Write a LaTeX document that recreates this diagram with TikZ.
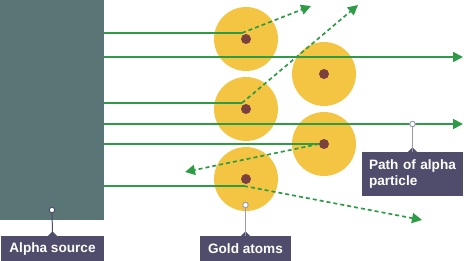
\documentclass[tikz,border=0pt]{standalone}
\usepackage{fontspec}
\setmainfont{Liberation Sans}
\usetikzlibrary{arrows.meta}
\definecolor{srcc}{HTML}{5A7575}
\definecolor{goldc}{HTML}{F4C542}
\definecolor{nucc}{HTML}{7B4141}
\definecolor{rayc}{HTML}{2E9C47}
\definecolor{labc}{HTML}{4F4C6C}
\definecolor{linkc}{HTML}{9A98AC}
\tikzset{
  atom/.style={circle, fill=goldc, minimum size=64pt, inner sep=0pt},
  nucleus/.style={circle, fill=nucc, minimum size=10pt, inner sep=0pt},
  ray/.style={draw=rayc, line width=1.7pt},
  rayarrow/.style={ray, -{Triangle[length=10pt,width=10pt]}},
  scatter/.style={ray, dash pattern=on 4pt off 3pt, -{Triangle[length=10pt,width=10pt]}},
  labelbox/.style={fill=labc, text=white, font=\bfseries\fontsize{13.6}{16.5}\selectfont, inner sep=0pt, minimum height=25pt},
  link/.style={draw=#1, line width=1pt},
  dotmark/.style={circle, draw=#1, fill=white, line width=0.9pt, minimum size=5.5pt, inner sep=0pt},
}
\begin{document}
\begin{tikzpicture}[x=1pt,y=-1pt]
\useasboundingbox (0,0) rectangle (464,261);
% source
\fill[srcc] (0,0) rectangle (104,220);
% atoms
\node[atom] (a1) at (246,39) {};
\node[atom] (a2) at (324,74) {};
\node[atom] (a3) at (246,109) {};
\node[atom] (a4) at (324,144) {};
\node[atom] (a5) at (246,179) {};
% ray coordinates
\coordinate (s1) at (104,33);  \coordinate (k1) at (242,33);  \coordinate (t1) at (311,6);
\coordinate (s2) at (104,57);  \coordinate (e2) at (463,57);
\coordinate (s3) at (104,103); \coordinate (k3) at (242,103); \coordinate (t3) at (358,5);
\coordinate (s4) at (104,124); \coordinate (e4) at (463,124);
\coordinate (s5) at (104,144); \coordinate (k5) at (319,144); \coordinate (t5) at (185,172);
\coordinate (s6) at (104,186); \coordinate (k6) at (244,186); \coordinate (t6) at (422,220);
% rays
\draw[ray] (s1) -- (k1);
\draw[scatter] (k1) -- (t1);
\draw[rayarrow] (s2) -- (e2);
\draw[ray] (s3) -- (k3);
\draw[scatter] (k3) -- (t3);
\draw[rayarrow] (s4) -- (e4);
\draw[ray] (s5) -- (k5);
\draw[scatter] (k5) -- (t5);
\draw[ray] (s6) -- (k6);
\draw[scatter] (k6) -- (t6);
% nuclei
\node[nucleus] (n1) at (246,39) {};
\node[nucleus] (n2) at (324,74) {};
\node[nucleus] (n3) at (246,109) {};
\node[nucleus] (n4) at (324,144) {};
\node[nucleus] (n5) at (246,179) {};
% labels
\node[labelbox, minimum width=103pt] (la) at (52.5,248.5) {Alpha source};
\node[labelbox, minimum width=91pt] (lg) at (245.5,248.5) {Gold atoms};
\node[labelbox, minimum width=101pt, minimum height=44pt, align=left, text width=87pt, inner xsep=7pt] (lp) at (412.5,174) {\mbox{Path of alpha}\\particle};
% notches
\foreach \b in {la,lg,lp}{
  \fill[labc] ([xshift=-4.5pt]\b.north) -- ([yshift=4.5pt]\b.north) -- ([xshift=4.5pt]\b.north) -- cycle;
}
% connectors
\coordinate (da) at (52,210);
\coordinate (dg) at (245.5,205);
\coordinate (dp) at (412.5,124);
\draw[link=labc] (da) -- (la.north);
\draw[link=linkc] (dg) -- (lg.north);
\draw[link=linkc] (dp) -- (lp.north);
\node[dotmark=labc] at (da) {};
\node[dotmark=linkc] at (dg) {};
\node[dotmark=linkc] at (dp) {};
\end{tikzpicture}
\end{document}
